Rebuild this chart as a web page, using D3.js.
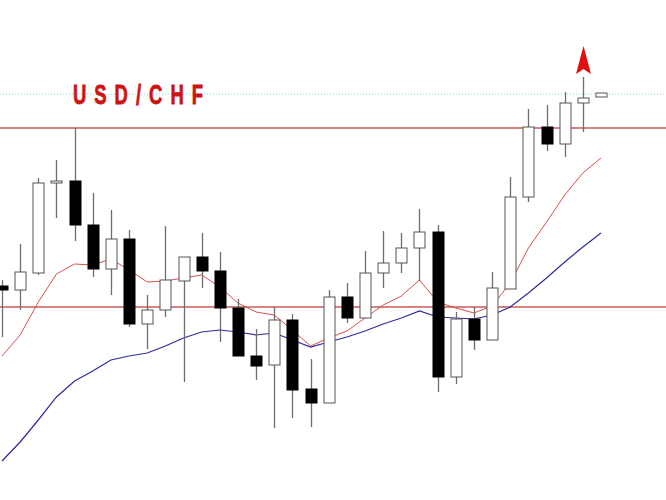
<!DOCTYPE html>
<html>
<head>
<meta charset="utf-8">
<script src="https://cdn.jsdelivr.net/npm/d3@7"></script>
<style>
  html, body { margin: 0; padding: 0; background: #ffffff; }
  svg { display: block; }
</style>
</head>
<body>
<svg id="chart" width="666" height="500"></svg>
<script>
// ---- data (prices, USD/CHF) ----
const title = "USD/CHF";
const opens  = [0.9214,0.9210,0.9227,0.9317,0.9319,0.9275,0.9231,0.9261,0.9176,0.9190,0.9219,0.9243,0.9229,0.9192,0.9144,0.9135,0.9180,0.9111,0.9097,0.9203,0.9182,0.9227,0.9237,0.9252,0.9268,0.9123,0.9181,0.9160,0.9211,0.9303,0.9373,0.9356,0.9397,0.9403];
const closes = [0.9210,0.9228,0.9317,0.9319,0.9275,0.9231,0.9261,0.9176,0.9190,0.9220,0.9243,0.9229,0.9192,0.9144,0.9134,0.9180,0.9110,0.9097,0.9203,0.9182,0.9227,0.9237,0.9252,0.9268,0.9123,0.9181,0.9160,0.9212,0.9303,0.9373,0.9356,0.9397,0.9402,0.9407];
const highs  = [0.9220,0.9256,0.9322,0.9340,0.9372,0.9307,0.9290,0.9270,0.9205,0.9274,0.9243,0.9267,0.9248,0.9201,0.9171,0.9193,0.9186,0.9141,0.9210,0.9217,0.9249,0.9269,0.9267,0.9291,0.9275,0.9188,0.9193,0.9228,0.9323,0.9391,0.9395,0.9408,0.9423,0.9407];
const lows   = [0.9163,0.9190,0.9225,0.9282,0.9259,0.9223,0.9205,0.9173,0.9151,0.9183,0.9118,0.9212,0.9158,0.9144,0.9120,0.9072,0.9082,0.9073,0.9097,0.9177,0.9182,0.9212,0.9227,0.9219,0.9108,0.9116,0.9150,0.9160,0.9211,0.9298,0.9349,0.9343,0.9368,0.9403];
const maFast = [0.9144,0.9165,0.9198,0.9226,0.9236,0.9235,0.9241,0.9230,0.9218,0.9219,0.9222,0.9225,0.9213,0.9197,0.9188,0.9185,0.9170,0.9154,0.9162,0.9169,0.9182,0.9195,0.9204,0.9220,0.9198,0.9192,0.9187,0.9194,0.9217,0.9252,0.9278,0.9305,0.9327,0.9342];
const maSlow = [0.9039,0.9058,0.9080,0.9103,0.9119,0.9129,0.9140,0.9144,0.9147,0.9154,0.9162,0.9168,0.9170,0.9168,0.9165,0.9167,0.9160,0.9153,0.9158,0.9163,0.9169,0.9176,0.9182,0.9189,0.9183,0.9182,0.9181,0.9185,0.9193,0.9207,0.9222,0.9238,0.9253,0.9267];
const resistance = 0.9372;
const support = 0.9193;
const currentLevel = 0.9406;

// ---- scales ----
const W = 666, H = 500;
const svg = d3.select("#chart");
const idx = d3.range(opens.length);
const x = d3.scaleLinear().domain([0, opens.length - 1]).range([2, 601]);
const y = d3.scaleLinear().domain([0.9500, 0.9000]).range([0, 500]);
const bodyW = 11;

// horizontal levels
svg.append("line")
  .attr("x1", 0).attr("x2", W)
  .attr("y1", y(currentLevel)).attr("y2", y(currentLevel))
  .attr("stroke", "#7fd6e0").attr("stroke-width", 1)
  .attr("stroke-dasharray", "1,2");

[resistance, support].forEach(v => {
  svg.append("line")
    .attr("x1", 0).attr("x2", W)
    .attr("y1", y(v)).attr("y2", y(v))
    .attr("stroke", "#c85a5a").attr("stroke-width", 1.3);
});

// moving averages
const line = d3.line().x((d, i) => x(i)).y(d => y(d));
svg.append("path").datum(maFast)
  .attr("d", line).attr("fill", "none")
  .attr("stroke", "#d8504a").attr("stroke-width", 1);
svg.append("path").datum(maSlow)
  .attr("d", line).attr("fill", "none")
  .attr("stroke", "#2c2ca0").attr("stroke-width", 1.2);

// candles
const g = svg.append("g");
const c = g.selectAll("g.candle").data(idx).enter().append("g").attr("class", "candle");
c.append("line")
  .attr("x1", i => Math.round(x(i)) + 0.5).attr("x2", i => Math.round(x(i)) + 0.5)
  .attr("y1", i => y(highs[i])).attr("y2", i => y(lows[i]))
  .attr("stroke", "#6e6e6e").attr("stroke-width", 1.3);
c.append("rect")
  .attr("x", i => Math.round(x(i)) - bodyW / 2 + 0.5)
  .attr("width", bodyW)
  .attr("y", i => y(Math.max(opens[i], closes[i])))
  .attr("height", i => Math.max(1, Math.abs(y(opens[i]) - y(closes[i]))))
  .attr("fill", i => closes[i] < opens[i] ? "#000000" : "#ffffff")
  .attr("stroke", i => closes[i] < opens[i] ? "#000000" : "#555555")
  .attr("stroke-width", 1);

// arrow above candle 32
const ax = Math.round(x(32)) + 0.5, ay = y(highs[32]);
svg.append("path")
  .attr("d", `M${ax},${ay - 31} L${ax + 7.5},${ay - 3} L${ax},${ay - 8} L${ax - 7.5},${ay - 3} Z`)
  .attr("fill", "#e01010");

// title (condensed look via horizontal scale)
const sx = 0.66;
svg.append("g")
  .attr("transform", `translate(73,104) scale(${sx},1)`)
  .append("text")
  .attr("x", 0).attr("y", 0)
  .attr("textLength", 130 / sx).attr("lengthAdjust", "spacing")
  .attr("font-family", "'Liberation Sans', Arial, sans-serif")
  .attr("font-weight", "bold").attr("font-size", 28)
  .attr("fill", "#cc1414")
  .attr("stroke", "#cc1414").attr("stroke-width", 0.8)
  .text(title);
</script>
</body>
</html>
